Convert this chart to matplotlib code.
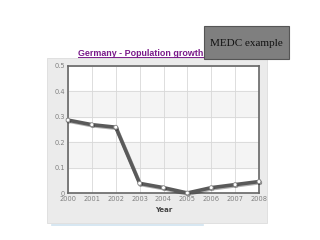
import matplotlib.pyplot as plt
import matplotlib.patheffects as pe
from matplotlib.patches import Rectangle

# data
years = [2000, 2001, 2002, 2003, 2004, 2005, 2006, 2007, 2008]
growth = [0.287, 0.269, 0.259, 0.038, 0.021, 0.0, 0.021, 0.033, 0.045]
y_ticks = [0, 0.1, 0.2, 0.3, 0.4, 0.5]
y_labels = ["0", "0.1", "0.2", "0.3", "0.4", "0.5"]

W, H = 320, 240
fig = plt.figure(figsize=(3.2, 2.4), dpi=100)
fig.patch.set_facecolor("white")

def fx(px):
    return px / W

def fy(py):
    return 1 - py / H

# light grey panel behind the chart
fig.patches.append(Rectangle((fx(47), fy(223)), fx(267) - fx(47), fy(58) - fy(223),
                             transform=fig.transFigure, facecolor="#ebebeb",
                             edgecolor="#dddddd", lw=0.6, zorder=-5))
# thin blue line under the panel
fig.lines.append(plt.Line2D([fx(52), fx(203)], [fy(224.5), fy(224.5)],
                            transform=fig.transFigure, color="#cfe3f0", lw=1.2, zorder=-5))

ax = fig.add_axes([fx(68), fy(193), fx(259) - fx(68), fy(66) - fy(193)])
ax.set_zorder(1)
ax.set_facecolor("white")
ax.set_xlim(2000, 2008)
ax.set_ylim(0, 0.5)

# alternating horizontal bands
for i in range(5):
    if i % 2 == 1:
        ax.axhspan(y_ticks[i], y_ticks[i + 1], color="#f4f4f4", zorder=0)

ax.set_xticks(years)
ax.set_xticklabels([str(y) for y in years])
ax.set_yticks(y_ticks)
ax.set_yticklabels(y_labels)
ax.grid(True, color="#d8d8d8", lw=0.6)
ax.tick_params(length=0, labelsize=4.8, colors="#808080", pad=2)
for s in ax.spines.values():
    s.set_color("#666666")
    s.set_linewidth(1.2)

ax.plot(years, growth, color="#5a5a5a", lw=2.6, marker="o", ms=2.8,
        mfc="white", mec="#888888", mew=0.6, clip_on=False, zorder=5,
        path_effects=[pe.SimpleLineShadow(offset=(0.6, -0.8), alpha=0.3), pe.Normal()])

ax.set_xlabel("Year", fontsize=5, color="#444444", fontweight="bold", labelpad=4)

fig.text(fx(78), fy(55.5), "Germany - Population growth rate", fontsize=6.4,
         family="Liberation Sans", color="#7a1a8a", fontweight="bold",
         va="baseline", ha="left", zorder=2)
fig.lines.append(plt.Line2D([fx(78), fx(210)], [fy(57.3), fy(57.3)],
                            transform=fig.transFigure, color="#7a1a8a", lw=0.7, zorder=2))

# grey label box on top
fig.patches.append(Rectangle((fx(204), fy(59)), fx(289) - fx(204), fy(26) - fy(59),
                             transform=fig.transFigure, facecolor="#7f7f7f",
                             edgecolor="#555555", lw=0.8, zorder=10))
fig.text(fx(246.5), fy(43), "MEDC example", fontsize=8, family="Liberation Serif",
         color="#111111", ha="center", va="center", zorder=11)

fig.savefig("out.png", dpi=100)
